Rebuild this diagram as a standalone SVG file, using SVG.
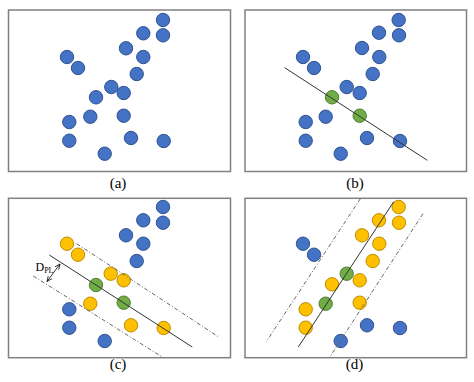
<svg xmlns="http://www.w3.org/2000/svg" width="474" height="382" viewBox="0 0 474 382">
<style>
.frame{fill:#fff;stroke:#808080;stroke-width:1.5}
.b{fill:#4472C4;stroke:#2F528F;stroke-width:1}
.g{fill:#70AD47;stroke:#507E32;stroke-width:1}
.y{fill:#FFC000;stroke:#BC8C00;stroke-width:1}
.ln{stroke:#333;stroke-width:1;fill:none}
.dl{stroke:#666;stroke-width:1;fill:none;stroke-dasharray:4 2 1 2}
.lbl{font-family:"Liberation Serif",serif;font-size:15px;fill:#000;text-anchor:middle}
</style>
<defs>
<marker id="ah" viewBox="0 0 10 10" refX="9" refY="5" markerWidth="6" markerHeight="6" orient="auto-start-reverse"><path d="M0,1 L9,5 L0,9" fill="none" stroke="#000" stroke-width="1.2"/></marker>
</defs>
<rect width="474" height="382" fill="#fff"/>
<g id="panel-a">
<rect class="frame" x="8.5" y="10" width="222" height="161.5"/>
<g class="b">
<circle cx="163" cy="20" r="6.7"/><circle cx="143.3" cy="33.3" r="6.7"/><circle cx="163" cy="35.3" r="6.7"/>
<circle cx="126" cy="48.3" r="6.7"/><circle cx="67" cy="57" r="6.7"/><circle cx="143.3" cy="57" r="6.7"/>
<circle cx="78" cy="68" r="6.7"/><circle cx="136.7" cy="74" r="6.7"/><circle cx="111.3" cy="87" r="6.7"/>
<circle cx="123.7" cy="93" r="6.7"/><circle cx="96" cy="97.3" r="6.7"/><circle cx="90.3" cy="116.7" r="6.7"/>
<circle cx="123.7" cy="115.7" r="6.7"/><circle cx="69.3" cy="122" r="6.7"/><circle cx="69.3" cy="140.7" r="6.7"/>
<circle cx="131" cy="138" r="6.7"/><circle cx="163.7" cy="141" r="6.7"/><circle cx="104.7" cy="153.7" r="6.7"/>
</g>
<text class="lbl" x="118" y="188">(a)</text>
</g>
<g id="panel-b">
<rect class="frame" x="245" y="10" width="221.5" height="161.5"/>
<g class="b">
<circle cx="398.7" cy="20" r="6.7"/><circle cx="379" cy="32.7" r="6.7"/><circle cx="399" cy="35.3" r="6.7"/>
<circle cx="362" cy="48" r="6.7"/><circle cx="303" cy="57" r="6.7"/><circle cx="379.3" cy="57" r="6.7"/>
<circle cx="314" cy="68" r="6.7"/><circle cx="372.7" cy="74" r="6.7"/><circle cx="346.7" cy="87" r="6.7"/>
<circle cx="359.7" cy="93" r="6.7"/><circle cx="325.7" cy="116.7" r="6.7"/>
<circle cx="305.7" cy="122" r="6.7"/><circle cx="305.7" cy="140.7" r="6.7"/>
<circle cx="367" cy="138" r="6.7"/><circle cx="400" cy="141" r="6.7"/><circle cx="340.7" cy="153.7" r="6.7"/>
</g>
<g class="g"><circle cx="332" cy="97.3" r="6.7"/><circle cx="359.7" cy="115.7" r="6.7"/></g>
<text class="lbl" x="355" y="188">(b)</text>
</g>
<g id="panel-c">
<rect class="frame" x="8.5" y="198.3" width="222" height="159.4"/>
<g class="b">
<circle cx="163" cy="207" r="6.7"/><circle cx="143.3" cy="220.3" r="6.7"/><circle cx="163" cy="222.7" r="6.7"/>
<circle cx="126" cy="235.3" r="6.7"/><circle cx="143.3" cy="243.7" r="6.7"/><circle cx="136.7" cy="261" r="6.7"/>
<circle cx="69.3" cy="309.3" r="6.7"/><circle cx="69.3" cy="327.7" r="6.7"/><circle cx="104.7" cy="341" r="6.7"/>
</g>
<g class="y">
<circle cx="67" cy="243.7" r="6.7"/><circle cx="78" cy="254.7" r="6.7"/><circle cx="110.7" cy="273.7" r="6.7"/>
<circle cx="123.7" cy="280.3" r="6.7"/><circle cx="90.3" cy="303.7" r="6.7"/><circle cx="131" cy="325.3" r="6.7"/>
<circle cx="163.7" cy="328" r="6.7"/>
</g>
<g class="g"><circle cx="96" cy="285" r="6.7"/><circle cx="123.7" cy="302.7" r="6.7"/></g>
<text x="35.5" y="271" font-family="Liberation Serif,serif" font-size="12">D<tspan font-size="8" dy="2">PL</tspan></text>
<text class="lbl" x="118" y="369">(c)</text>
</g>
<g id="panel-d">
<rect class="frame" x="245" y="198.3" width="221.5" height="159.4"/>
<g class="b">
<circle cx="303" cy="243.7" r="6.7"/><circle cx="314" cy="254.7" r="6.7"/>
<circle cx="367" cy="325.3" r="6.7"/><circle cx="400" cy="328" r="6.7"/><circle cx="340.7" cy="341" r="6.7"/>
</g>
<g class="y">
<circle cx="398.7" cy="207" r="6.7"/><circle cx="379" cy="220.3" r="6.7"/><circle cx="399" cy="222.7" r="6.7"/>
<circle cx="362" cy="235.3" r="6.7"/><circle cx="379.3" cy="243.7" r="6.7"/><circle cx="372.7" cy="261" r="6.7"/>
<circle cx="359.7" cy="280.3" r="6.7"/><circle cx="332" cy="284.3" r="6.7"/><circle cx="359.7" cy="302.7" r="6.7"/>
<circle cx="305.7" cy="309.3" r="6.7"/><circle cx="305.7" cy="327.7" r="6.7"/>
</g>
<g class="g"><circle cx="346.7" cy="273.7" r="6.7"/><circle cx="325.7" cy="303.7" r="6.7"/></g>
<text class="lbl" x="354.5" y="369">(d)</text>
</g>
<g id="connectors">
<line class="ln" x1="284.7" y1="67.7" x2="427.3" y2="160.3"/>
<line class="ln" x1="49.3" y1="255" x2="192.3" y2="347"/>
<line class="dl" x1="76.7" y1="243.7" x2="218.3" y2="336.7"/>
<line class="dl" x1="33.3" y1="276" x2="163.3" y2="357.7"/>
<line class="ln" x1="60" y1="264" x2="47" y2="281.5" stroke="#000" marker-start="url(#ah)" marker-end="url(#ah)"/>
<line class="ln" x1="393.7" y1="201.7" x2="298.3" y2="347"/>
<line class="dl" x1="360.5" y1="198.5" x2="266.3" y2="341.7"/>
<line class="dl" x1="423" y1="213.7" x2="329.3" y2="357.7"/>
</g>
</svg>
